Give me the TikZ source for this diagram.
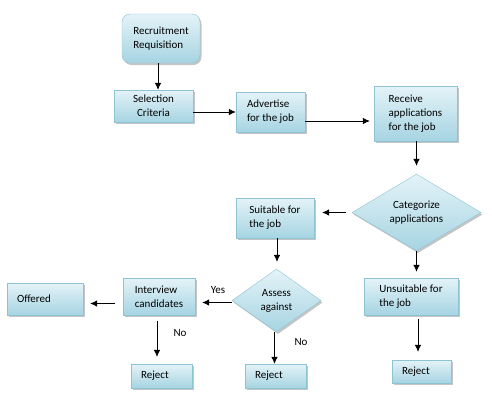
\documentclass[tikz,border=0pt]{standalone}
\usepackage{fontspec}
\setmainfont{Carlito}
\usepackage{tikz}
\usetikzlibrary{shapes.geometric,shadows,arrows.meta,calc}
\definecolor{boxtop}{HTML}{E4F3F8}
\definecolor{boxbot}{HTML}{A6D4E2}
\definecolor{boxline}{HTML}{8EC3D3}
\tikzset{
  flowbox/.style={draw=boxline, top color=boxtop, bottom color=boxbot,
    font=\fontsize{11}{14}\selectfont, align=left, inner sep=2pt,
    drop shadow={shadow xshift=1.5pt, shadow yshift=-2pt, fill=black!45, opacity=0.5}},
  flowdia/.style={flowbox, diamond, inner sep=0pt, align=center},
  padbox/.style={flowbox, inner xsep=10pt},
  edgeflow/.style={black, -{Latex[length=7pt,width=6.5pt]}, line width=0.7pt},
  edgelabel/.style={font=\fontsize{11}{14}\selectfont, inner sep=1pt}
}

\begin{document}
\begin{tikzpicture}[x=1pt, y=-1pt]
\useasboundingbox (0,0) rectangle (492,402);

\node[flowbox, rounded corners=8pt, minimum width=78, minimum height=49](req) at (161,38.5)
{Recruitment\\Requisition};

\node[flowbox, align=center, minimum width=79, minimum height=32](sel) at (153.5,106)
{Selection\\Criteria};

\node[flowbox, minimum width=69, minimum height=40](adv) at (270.5,112)
{Advertise\\for the job};

\node[flowbox, minimum width=83, minimum height=55](recv) at (415.5,113.5)
{Receive\\applications\\for the job};

\node[flowdia, minimum width=129, minimum height=65](cat) at (416.5,212.5)
{Categorize\\applications};

\node[flowbox, minimum width=78, minimum height=40](suit) at (275,218)
{Suitable for\\the job};

\node[flowdia, minimum width=89, minimum height=63](assess) at (276.5,300.5)
{Assess\\against};

\node[flowbox, minimum width=94, minimum height=37](unsuit) at (411,296.5)
{Unsuitable for\\the job};

\node[flowbox, minimum width=72, minimum height=37](inter) at (159,296.5)
{Interview\\candidates};

\node[padbox, text width=56, minimum height=32](offer) at (45,299)
{Offered};

\node[padbox, text width=41, minimum height=24](rejl) at (161.5,376) {Reject};
\node[padbox, text width=41, minimum height=24](rejm) at (275.5,376) {Reject};
\node[padbox, text width=39, minimum height=23](rejr) at (421.5,371.5) {Reject};

% labels on the branches
\node[edgelabel](yes) at (218,290) {Yes};
\node[edgelabel](nol) at (180,333) {No};
\node[edgelabel](nom) at (301,342) {No};

\draw[edgeflow] ([xshift=-3pt]req.south) -- ([xshift=-3pt]req.south |- sel.north);

\draw[edgeflow] (sel.east |- adv) -- (adv.west);

\draw[edgeflow, shorten >=4pt] ([yshift=-9pt]adv.east) -- ([yshift=-9pt]adv.east -| recv.west);

\draw[edgeflow, shorten >=8pt] (cat.north |- recv.south) -- (cat.north);

\draw[edgeflow, shorten <=6pt, shorten >=8pt] (cat.west) -- (suit.east |- cat.west);

\draw[edgeflow, shorten >=7pt] ([xshift=2pt]suit.south) -- ([xshift=2pt]suit.south |- assess.north);

\draw[edgeflow] ([xshift=-2pt]assess.south) -- ([xshift=-2pt]assess.south |- rejm.north);

\draw[edgeflow, shorten >=7pt] ([yshift=-2pt]assess.west) -- ([yshift=-2pt]assess.west -| inter.east);

\draw[edgeflow, shorten <=8pt, shorten >=7pt] ([yshift=-7pt]inter.west) -- ([yshift=-7pt]inter.west -| offer.east);

\draw[edgeflow, shorten <=6pt, shorten >=7pt] ([xshift=-2pt]inter.south) -- ([xshift=-2pt]inter.south |- rejl.north);

\draw[edgeflow, shorten >=6pt] (cat.south) -- (cat.south |- unsuit.north);

\draw[edgeflow, shorten <=4pt, shorten >=8pt] ([xshift=7pt]unsuit.south) -- ([xshift=7pt]unsuit.south |- rejr.north);
\end{tikzpicture}
\end{document}
